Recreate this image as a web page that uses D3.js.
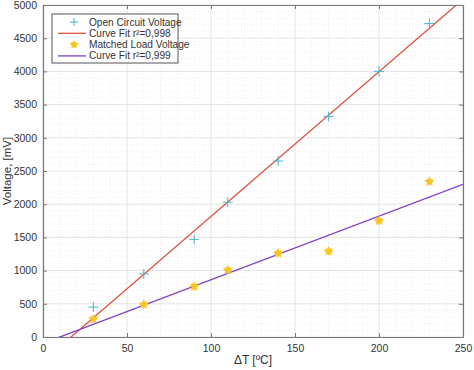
<!DOCTYPE html>
<html>
<head>
<meta charset="utf-8">
<script src="https://cdnjs.cloudflare.com/ajax/libs/d3/7.8.5/d3.min.js"></script>
<style>
  body { margin: 0; background: #fff; }
  svg text { font-family: "Liberation Sans", Arial, sans-serif; fill: #333; }
</style>
</head>
<body>
<div id="chart"></div>
<script>
// measured points
var deltaT = [30, 60, 90, 110, 140, 170, 200, 230];
var openCircuit = [450, 950, 1470, 2030, 2650, 3320, 4000, 4720];
var matchedLoad = [270, 490, 760, 1010, 1260, 1290, 1750, 2340];

// fit lines, end points
var openFitX = [0, 250];
var openFitY = [-364, 5086];
var loadFitX = [0, 250];
var loadFitY = [-96, 2300];

var xTicks = [0, 50, 100, 150, 200, 250];
var yTicks = [0, 500, 1000, 1500, 2000, 2500, 3000, 3500, 4000, 4500, 5000];
var legendLabels = ["Open Circuit Voltage", "Curve Fit r\u00b2=0,998", "Matched Load Voltage", "Curve Fit r\u00b2=0,999"];

var W = 474, H = 370;
var margin = {top: 5, right: 11, bottom: 33, left: 43};
var width = W - margin.left - margin.right,
    height = H - margin.top - margin.bottom;

var cyan = "#4db6c4", red = "#dd5340", yellow = "#f7c520", purple = "#7e3fc4";

var svg = d3.select("#chart").append("svg")
    .attr("width", W).attr("height", H);

var g = svg.append("g")
    .attr("transform", "translate(" + margin.left + "," + margin.top + ")");

var x = d3.scaleLinear().domain([0, 250]).range([0, width]);
var y = d3.scaleLinear().domain([0, 5000]).range([height, 0]);

// minor grid
g.append("g").selectAll("line")
    .data(d3.range(0, 251, 10).filter(function(d) { return d % 50 != 0; }))
    .enter().append("line")
    .attr("x1", x).attr("x2", x).attr("y1", 0).attr("y2", height)
    .attr("stroke", "#eeeeee").attr("stroke-dasharray", "1,2");
g.append("g").selectAll("line")
    .data(d3.range(0, 5001, 100).filter(function(d) { return d % 500 != 0; }))
    .enter().append("line")
    .attr("y1", y).attr("y2", y).attr("x1", 0).attr("x2", width)
    .attr("stroke", "#eeeeee").attr("stroke-dasharray", "1,2");

// major grid
g.append("g").selectAll("line").data(xTicks).enter().append("line")
    .attr("x1", x).attr("x2", x).attr("y1", 0).attr("y2", height)
    .attr("stroke", "#e4e4e4");
g.append("g").selectAll("line").data(yTicks).enter().append("line")
    .attr("y1", y).attr("y2", y).attr("x1", 0).attr("x2", width)
    .attr("stroke", "#e4e4e4");

// fit lines, clipped to the plot box
svg.append("defs").append("clipPath").attr("id", "clip")
    .append("rect").attr("width", width).attr("height", height);

var line = d3.line()
    .x(function(d) { return x(d[0]); })
    .y(function(d) { return y(d[1]); });

var plot = g.append("g").attr("clip-path", "url(#clip)");
plot.append("path").datum(d3.zip(openFitX, openFitY))
    .attr("d", line).attr("fill", "none").attr("stroke", red).attr("stroke-width", 1.3);
plot.append("path").datum(d3.zip(loadFitX, loadFitY))
    .attr("d", line).attr("fill", "none").attr("stroke", purple).attr("stroke-width", 1.3);

// markers
function plus(sel, cx, cy, r) {
  sel.append("path")
    .attr("d", "M" + (cx - r) + "," + cy + "H" + (cx + r) + "M" + cx + "," + (cy - r) + "V" + (cy + r))
    .attr("stroke", cyan).attr("stroke-width", 1).attr("fill", "none");
}
function star(sel, cx, cy, r) {
  sel.append("path")
    .attr("d", d3.symbol().type(d3.symbolStar).size(r * r * 2.2)())
    .attr("transform", "translate(" + cx + "," + cy + ")")
    .attr("fill", yellow).attr("opacity", 0.9);
  sel.append("path")
    .attr("d", "M" + (cx - r) + "," + cy + "H" + (cx + r) + "M" + cx + "," + (cy - r) + "V" + (cy + r) +
      "M" + (cx - r * 0.7) + "," + (cy - r * 0.7) + "L" + (cx + r * 0.7) + "," + (cy + r * 0.7) +
      "M" + (cx - r * 0.7) + "," + (cy + r * 0.7) + "L" + (cx + r * 0.7) + "," + (cy - r * 0.7))
    .attr("stroke", yellow).attr("stroke-width", 1.4).attr("fill", "none");
}

var marks = g.append("g");
deltaT.forEach(function(t, i) {
  plus(marks, x(t), y(openCircuit[i]), 5);
  star(marks, x(t), y(matchedLoad[i]), 4);
});

// axes box with inward ticks
var axisColor = "#777";
var xAxis = g.append("g").attr("transform", "translate(0," + height + ")")
    .call(d3.axisBottom(x).tickValues(xTicks).tickSizeInner(-4).tickSizeOuter(0).tickPadding(8));
var xTop = g.append("g")
    .call(d3.axisTop(x).tickValues(xTicks).tickSizeInner(-4).tickSizeOuter(0).tickFormat(""));
var yAxis = g.append("g")
    .call(d3.axisLeft(y).tickValues(yTicks).tickFormat(d3.format("d")).tickSizeInner(-4).tickSizeOuter(0).tickPadding(6));
var yRight = g.append("g").attr("transform", "translate(" + width + ",0)")
    .call(d3.axisRight(y).tickValues(yTicks).tickSizeInner(-4).tickSizeOuter(0).tickFormat(""));

[xAxis, xTop, yAxis, yRight].forEach(function(a) {
  a.select(".domain").attr("stroke", axisColor).attr("stroke-width", 1.2);
  a.selectAll(".tick line").attr("stroke", axisColor);
  a.selectAll(".tick text").attr("font-size", 10.5).style("fill", "#333");
});

// axis labels
svg.append("text")
    .attr("x", margin.left + width / 2).attr("y", 364)
    .attr("text-anchor", "middle").attr("font-size", 12)
    .text("\u0394T [\u00baC]");
svg.append("text")
    .attr("transform", "translate(11," + (margin.top + height / 2) + ") rotate(-90)")
    .attr("text-anchor", "middle").attr("font-size", 11.5)
    .text("Voltage, [mV]");

// legend
var lg = svg.append("g").attr("transform", "translate(52,14)");
lg.append("rect").attr("width", 126).attr("height", 49)
    .attr("fill", "#fff").attr("stroke", "#555").attr("stroke-width", 1);

legendLabels.forEach(function(lab, i) {
  var ly = 8 + i * 11.3;
  if (i == 0) plus(lg, 22, ly, 4);
  if (i == 2) star(lg, 22, ly, 3.5);
  if (i == 1 || i == 3) {
    lg.append("line").attr("x1", 6).attr("x2", 34).attr("y1", ly).attr("y2", ly)
      .attr("stroke", i == 1 ? red : purple).attr("stroke-width", 1.3);
  }
  lg.append("text").attr("x", 37).attr("y", ly + 3.5)
    .attr("font-size", 10.1).text(lab);
});
</script>
</body>
</html>
